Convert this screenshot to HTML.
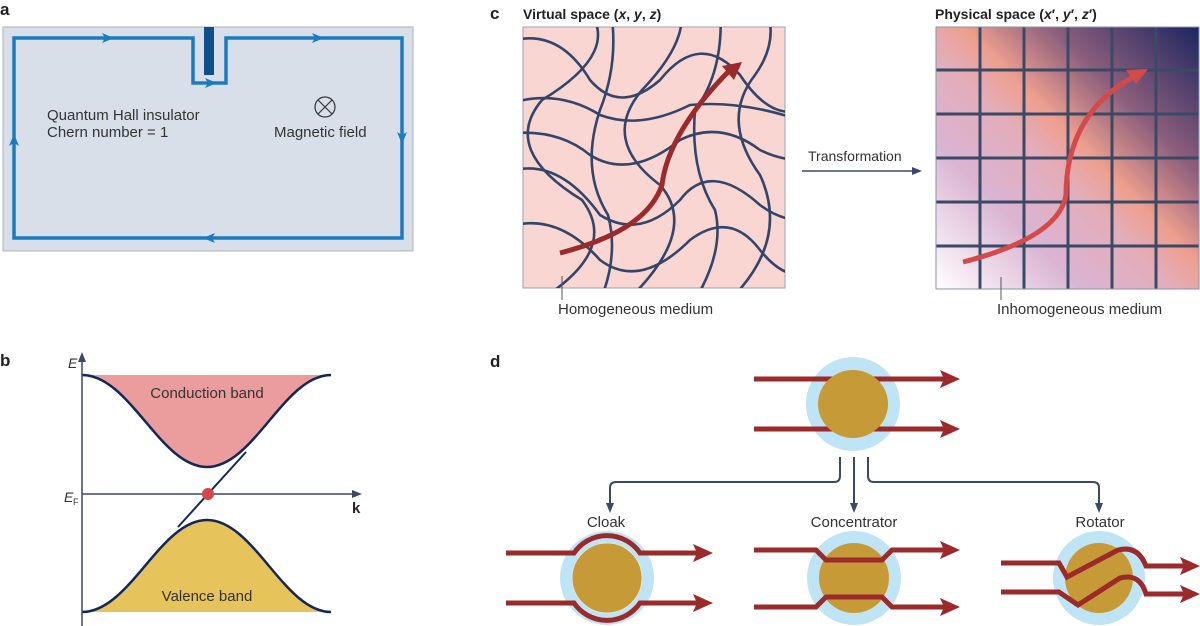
<!DOCTYPE html>
<html><head><meta charset="utf-8"><style>
html,body{margin:0;padding:0;background:#fff;}
svg{display:block;font-family:"Liberation Sans",sans-serif;}
</style></head><body>
<svg width="1200" height="626" viewBox="0 0 1200 626" xmlns="http://www.w3.org/2000/svg">
<defs>
<linearGradient id="phys" x1="0" y1="1" x2="1" y2="0">
<stop offset="0" stop-color="#ffffff"/>
<stop offset="0.28" stop-color="#dab4d2"/>
<stop offset="0.45" stop-color="#e3adba"/>
<stop offset="0.55" stop-color="#ee9f8f"/>
<stop offset="0.72" stop-color="#8c5e7c"/>
<stop offset="1" stop-color="#1c2660"/>
</linearGradient>
<clipPath id="cl"><rect x="523" y="27" width="262" height="261"/></clipPath>
</defs>

<!-- Panel a -->
<text x="0" y="15" font-size="17" font-weight="bold" fill="#222">a</text>
<rect x="3" y="27" width="410" height="224" fill="#d8dfe8" stroke="#a9b0bb" stroke-width="1"/>
<path d="M14 238 V38 H193 V83 H226 V38 H402 V238 Z" fill="none" stroke="#1a7bbf" stroke-width="3.5"/>
<rect x="204" y="27" width="10" height="48" fill="#0d4f8b"/>
<g fill="#1a7bbf">
<polygon points="114,38 102,33 105,38 102,43"/>
<polygon points="324,38 312,33 315,38 312,43"/>
<polygon points="217,83 205,78 208,83 205,88"/>
<polygon points="402,144 397,132 402,135 407,132"/>
<polygon points="203,238 215,233 212,238 215,243"/>
<polygon points="14,134 9,146 14,143 19,146"/>
</g>
<text x="47" y="120" font-size="15" fill="#333">Quantum Hall insulator</text>
<text x="47" y="137" font-size="15" fill="#333">Chern number = 1</text>
<circle cx="325" cy="107" r="10" fill="none" stroke="#333" stroke-width="1.2"/>
<path d="M318 100 L332 114 M332 100 L318 114" stroke="#333" stroke-width="1.2"/>
<text x="274" y="137" font-size="15" fill="#333">Magnetic field</text>

<!-- Panel b -->
<text x="0" y="366" font-size="17" font-weight="bold" fill="#222">b</text>
<path d="M82 375 C130 375,160 467,207 467 C254 467,284 375,331 375 Z" fill="#eb9c9c"/>
<path d="M82 612 C130 612,160 520,207 520 C254 520,284 612,331 612 Z" fill="#e6c45b"/>
<path d="M82 375 C130 375,160 467,207 467 C254 467,284 375,331 375" fill="none" stroke="#13285a" stroke-width="2.5"/>
<path d="M82 612 C130 612,160 520,207 520 C254 520,284 612,331 612" fill="none" stroke="#13285a" stroke-width="2.5"/>
<line x1="178" y1="527" x2="246" y2="452" stroke="#13285a" stroke-width="2"/>
<line x1="82" y1="626" x2="82" y2="358" stroke="#3a4a66" stroke-width="1.5"/>
<polygon points="82,352 78,362 86,362" fill="#3a4a66"/>
<line x1="82" y1="494" x2="356" y2="494" stroke="#3a4a66" stroke-width="1.5"/>
<polygon points="362,494 352,490 352,498" fill="#3a4a66"/>
<circle cx="208" cy="494" r="6" fill="#d9434a"/>
<text x="68" y="368" font-size="14" font-style="italic" fill="#333">E</text>
<text x="64" y="502" font-size="14" font-style="italic" fill="#333">E</text>
<text x="73" y="505" font-size="9" fill="#333">F</text>
<text x="352" y="513" font-size="15" font-weight="bold" fill="#222">k</text>
<text x="207" y="398" font-size="15" fill="#333" text-anchor="middle">Conduction band</text>
<text x="207" y="601" font-size="15" fill="#333" text-anchor="middle">Valence band</text>

<!-- Panel c -->
<text x="490" y="19" font-size="17" font-weight="bold" fill="#222">c</text>
<text x="523" y="19" font-size="14" font-weight="bold" fill="#222">Virtual space (<tspan font-style="italic">x</tspan>, <tspan font-style="italic">y</tspan>, <tspan font-style="italic">z</tspan>)</text>
<rect x="523" y="27" width="262" height="261" fill="#fad6d2" stroke="#9aa3b8" stroke-width="1"/>
<g clip-path="url(#cl)" fill="none" stroke="#34456a" stroke-width="2.6">
<path d="M585 5 Q625 50 542 100 Q500 150 582 200 Q620 250 540 300"/>
<path d="M610 5 Q620 60 600 110 Q580 170 608 215 Q620 260 596 310"/>
<path d="M680 5 Q690 40 642 90 Q600 140 660 185 Q700 230 628 300"/>
<path d="M720 5 Q725 70 695 110 Q690 170 715 210 Q725 250 695 300"/>
<path d="M765 5 Q780 40 755 75 Q720 120 760 175 Q790 240 730 300"/>
<path d="M515 40 Q560 30 590 80 Q620 115 660 80 Q700 30 740 75 Q770 120 800 110"/>
<path d="M515 102 Q560 90 600 115 Q640 130 690 105 Q740 100 800 120"/>
<path d="M515 133 Q560 130 590 155 Q630 180 680 140 Q720 120 760 150 Q780 160 800 160"/>
<path d="M515 170 Q560 160 600 215 Q640 240 680 200 Q710 160 760 205 Q780 220 800 220"/>
<path d="M515 225 Q560 215 600 260 Q640 290 690 240 Q730 210 760 250 Q780 275 800 275"/>
</g>
<path d="M560 253 C610 240,650 220,662 185 C666 150,690 110,730 70" fill="none" stroke="#9b2a2a" stroke-width="5"/>
<polygon points="742,62 722,66 734,80" fill="#9b2a2a"/>
<line x1="562" y1="276" x2="562" y2="300" stroke="#555" stroke-width="1"/>
<text x="558" y="314" font-size="15" fill="#333">Homogeneous medium</text>
<text x="808" y="161" font-size="14" fill="#333">Transformation</text>
<line x1="802" y1="171" x2="916" y2="171" stroke="#3a4a66" stroke-width="1.5"/>
<polygon points="922,171 912,167 912,175" fill="#3a4a66"/>

<text x="935" y="19" font-size="14" font-weight="bold" fill="#222">Physical space (<tspan font-style="italic">x</tspan>′, <tspan font-style="italic">y</tspan>′, <tspan font-style="italic">z</tspan>′)</text>
<rect x="936" y="27" width="263" height="262" fill="url(#phys)"/>
<g stroke="#3a4a66" stroke-width="3">
<line x1="980" y1="27" x2="980" y2="289"/><line x1="1024" y1="27" x2="1024" y2="289"/>
<line x1="1068" y1="27" x2="1068" y2="289"/><line x1="1112" y1="27" x2="1112" y2="289"/>
<line x1="1156" y1="27" x2="1156" y2="289"/>
<line x1="936" y1="70" x2="1199" y2="70"/><line x1="936" y1="114" x2="1199" y2="114"/>
<line x1="936" y1="158" x2="1199" y2="158"/><line x1="936" y1="202" x2="1199" y2="202"/>
<line x1="936" y1="246" x2="1199" y2="246"/>
</g>
<rect x="936" y="27" width="263" height="262" fill="none" stroke="#8a93a8" stroke-width="1"/>
<path d="M963 262 C1010 250,1060 230,1066 195 C1066 140,1090 100,1135 76" fill="none" stroke="#d24a4a" stroke-width="5"/>
<polygon points="1148,69 1126,70 1136,84" fill="#d24a4a"/>
<line x1="1001" y1="277" x2="1001" y2="300" stroke="#555" stroke-width="1"/>
<text x="997" y="314" font-size="15" fill="#333">Inhomogeneous medium</text>

<!-- Panel d -->
<text x="490" y="367" font-size="17" font-weight="bold" fill="#222">d</text>
<ellipse cx="853" cy="404" rx="47" ry="47" fill="#bfe4f5"/>
<g stroke="#9b2a2a" stroke-width="5" fill="none">
<line x1="754" y1="379" x2="945" y2="379"/><line x1="754" y1="429" x2="945" y2="429"/>
</g>
<g fill="#9b2a2a"><polygon points="960,379 940,370 944,379 940,388"/><polygon points="960,429 940,420 944,429 940,438"/></g>
<ellipse cx="853" cy="404" rx="35" ry="34" fill="#c79a38"/>
<g stroke="#3a4a66" stroke-width="2" fill="none">
<path d="M840 457 V476 Q840 482 834 482 H616 Q610 482 610 488 V506"/>
<line x1="854" y1="457" x2="854" y2="506"/>
<path d="M868 457 V476 Q868 482 874 482 H1093 Q1099 482 1099 488 V506"/>
</g>
<g fill="#3a4a66"><polygon points="610,513 606,503 614,503"/><polygon points="854,513 850,503 858,503"/><polygon points="1099,513 1095,503 1103,503"/></g>
<text x="606" y="527" font-size="15" fill="#333" text-anchor="middle">Cloak</text>
<text x="854" y="527" font-size="15" fill="#333" text-anchor="middle">Concentrator</text>
<text x="1100" y="527" font-size="15" fill="#333" text-anchor="middle">Rotator</text>

<!-- cloak -->
<ellipse cx="607" cy="578" rx="47" ry="47" fill="#bfe4f5"/>
<ellipse cx="607" cy="578" rx="35" ry="35" fill="#c79a38" stroke="#d8e6ea" stroke-width="1"/>
<g stroke="#9b2a2a" stroke-width="5" fill="none">
<path d="M506 553 H574 A40 40 0 0 1 640 553 H700"/>
<path d="M506 603 H574 A40 40 0 0 0 640 603 H700"/>
</g>
<g fill="#9b2a2a"><polygon points="713,553 693,544 697,553 693,562"/><polygon points="713,603 693,594 697,603 693,612"/></g>

<!-- concentrator -->
<ellipse cx="854" cy="578" rx="47" ry="47" fill="#bfe4f5"/>
<ellipse cx="854" cy="578" rx="35" ry="35" fill="#c79a38"/>
<g stroke="#9b2a2a" stroke-width="5" fill="none">
<path d="M754 550 H816 L826 560 H882 L892 550 H945"/>
<path d="M754 607 H816 L826 597 H882 L892 607 H945"/>
</g>
<g fill="#9b2a2a"><polygon points="960,550 940,541 944,550 940,559"/><polygon points="960,607 940,598 944,607 940,616"/></g>

<!-- rotator -->
<ellipse cx="1099" cy="578" rx="46" ry="47" fill="#bfe4f5"/>
<ellipse cx="1099" cy="578" rx="34" ry="35" fill="#c79a38"/>
<g stroke="#9b2a2a" stroke-width="5" fill="none">
<path d="M1001 563 H1059 L1067 577 L1118 550 Q1138 545 1146 566 H1185"/>
<path d="M1001 592 H1059 L1078 605 L1120 578 Q1140 573 1146 594 H1185"/>
</g>
<g fill="#9b2a2a"><polygon points="1200,566 1180,557 1184,566 1180,575"/><polygon points="1200,594 1180,585 1184,594 1180,603"/></g>
</svg>
</body></html>
